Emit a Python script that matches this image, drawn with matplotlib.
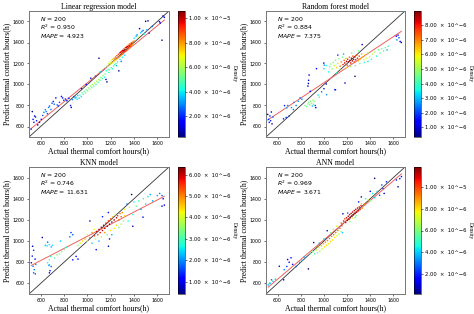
import numpy as np
import matplotlib
matplotlib.use("Agg")
import matplotlib.pyplot as plt
from matplotlib.ticker import FuncFormatter

# ---------------- data ----------------
titles = ["Linear regression model", "Random forest model", "KNN model", "ANN model"]
n_text = ["200", "200", "200", "200"]
r2_text = ["0.950", "0.884", "0.746", "0.969"]
mape_text = ["4.923", "7.375", "11.631", "3.671"]

lr_pts = [
    (518,575),(528,742),(535,668),(542,640),(548,700),(556,690),(565,655),(575,615),(590,640),(605,668),
    (618,705),(628,735),(640,760),(648,742),(658,722),(668,782),(676,795),(688,762),(698,822),(708,838),
    (716,812),(730,872),(742,805),(752,795),(762,830),(778,886),(788,872),(798,850),(812,862),(825,845),
    (842,868),(856,800),(862,782),(872,856),(884,882),(895,870),
    (902,880),(912,860),(918,895),(930,870),(936,900),(948,885),(955,920),
    (966,905),(972,935),(984,920),(990,950),(1002,940),(1008,968),
    (1020,955),(1026,985),(1038,970),(1044,1000),(1056,985),(1062,1015),(1074,1000),
    (1080,1030),(1092,1020),(1098,1048),(1110,1040),(1116,1068),(1128,1055),(1134,1085),
    (1146,1070),(1152,1100),(1160,1048),(1168,1025),(1100,1250),(1155,1160),(1162,1130),(1172,1172),(1178,1145),
    (1185,1115),(1030,1060),(990,1000),(950,960),(1070,1080),(1110,1120),
    (1182,1200),(1188,1180),(1194,1215),(1200,1195),(1206,1230),(1212,1205),(1218,1240),(1224,1215),(1230,1250),(1236,1225),
    (1242,1262),(1248,1238),(1254,1275),(1260,1250),(1266,1288),(1272,1262),(1278,1300),(1284,1275),(1290,1312),(1296,1290),
    (1302,1325),(1308,1300),(1314,1338),(1320,1315),(1326,1350),(1332,1325),(1338,1362),(1344,1340),(1350,1375),(1356,1352),
    (1362,1388),(1370,1365),(1378,1400),(1386,1380),(1394,1412),(1270,1130),(1205,1160),(1225,1175),(1245,1200),(1190,1140),
    (1215,1150),(1260,1215),(1235,1190),(1280,1240),(1300,1260),(1320,1280),(1250,1180),(1290,1220),
    (1285,1305),(1298,1318),(1310,1322),(1322,1332),(1334,1352),(1346,1360),(1358,1370),(1368,1385),(1380,1392),(1392,1402),
    (1305,1292),(1330,1318),(1355,1345),(1375,1372),
    (1402,1442),(1410,1418),(1418,1460),(1426,1472),(1436,1450),(1448,1532),(1458,1492),(1468,1505),(1478,1515),(1488,1482),
    (1500,1602),(1510,1522),(1520,1606),(1530,1490),(1555,1552),(1618,1598),(1640,1422),(1648,1652),(1660,1640),(1625,1585),
]

rf_pts = [
    (515,715),(522,668),(528,640),(534,700),(540,655),(546,738),(552,625),(560,690),
    (651,673),(660,799),(674,686),(680,777),(688,800),(700,700),(720,780),(737,761),(740,830),(760,800),
    (779,840),(794,872),(810,860),
    (838,800),(850,790),(862,815),(870,830),(878,805),(885,840),(892,820),(900,795),(910,812),(918,838),
    (925,800),(930,780),(905,850),(882,935),
    (862,985),(868,1040),(872,1090),(866,1010),
    (936,1151),(999,1204),(1003,1185),(1023,903),(1095,951),(1182,1014),(1268,1078),(960,880),(1100,950),
    (950,900),(980,930),(1000,960),(1020,1005),
    (1050,1170),(1060,1195),(1070,1150),(1080,1210),(1090,1180),(1100,1230),(1110,1160),(1120,1200),(1130,1245),(1140,1175),
    (1150,1215),(1160,1260),(1165,1190),(1175,1230),(1180,1205),(1190,1250),(1195,1220),(1200,1185),(1205,1240),(1212,1215),
    (1220,1260),(1225,1230),(1232,1205),(1238,1250),(1245,1225),(1250,1270),(1256,1240),(1262,1215),(1268,1262),(1275,1235),
    (1282,1280),(1290,1250),(1298,1225),(1305,1270),(1315,1245),(1325,1290),(1335,1260),(1345,1235),(1355,1285),(1365,1250),
    (1380,1300),(1395,1265),(1410,1240),(1000,1150),(1020,1180),(1040,1120),(1120,1280),(1170,1290),(1240,1300),(1300,1320),
    (1110,1110),(1150,1140),(1190,1160),(1230,1170),(1270,1180),(1310,1200),
    (1420,1290),(1440,1310),(1455,1270),(1470,1330),(1485,1300),(1500,1340),(1515,1320),(1530,1350),(1545,1330),(1555,1365),
    (1330,1380),(1350,1210),(1380,1220),
    (1630,1425),(1640,1470),(1648,1445),(1658,1410),(1668,1400),(1625,1460),
]

knn_pts = [
    (520,795),(528,858),(535,762),(540,700),(545,730),(552,830),(558,780),(531,951),(540,913),(554,690),
    (614,1034),(640,960),(655,955),(660,990),(674,967),(690,945),(700,960),(770,1000),
    (660,795),(670,770),(675,700),(684,855),(674,823),(680,720),(674,775),(690,760),
    (720,840),(740,870),(760,880),(780,900),(800,920),(820,940),
    (860,1080),(875,1060),(850,1040),(875,823),(904,855),(920,830),
    (1000,1000),(1020,1030),(1040,980),(1060,1050),(1070,1020),(1080,1090),(1090,1060),(1100,1110),(1110,1080),(1120,1130),
    (1130,1100),(1140,1150),(1150,1120),(1160,1170),(1170,1140),(1180,1190),(1190,1160),(1200,1210),(1210,1180),(1220,1230),
    (1230,1200),(1240,1250),(1250,1220),(1260,1240),(1270,1200),(1280,1260),(1290,1230),(1300,1270),(1310,1190),(1150,1080),
    (1170,1060),(1200,1100),(1230,1120),(1250,1150),(1270,1130),(1290,1160),(1120,1040),(1190,1020),(1210,1060),(1100,1000),
    (1060,1110),(1040,1080),(1000,1060),(980,1020),(960,1000),(940,980),(920,960),
    (1076,919),(1181,951),(1180,1270),(1022,1190),(1130,1230),(1477,1226),
    (1320,1300),(1340,1350),(1360,1320),(1380,1440),(1390,1250),(1400,1370),(1420,1330),(1440,1380),(1460,1300),(1480,1400),
    (1500,1350),(1520,1420),(1540,1440),(1560,1380),(1600,1430),(1620,1450),(1640,1430),(1650,1400),(1660,1340),(1640,1330),
    (1390,1140),(1350,1190),(1320,1240),
]

ann_pts = [
    (519,586),(530,600),(537,602),(548,634),(560,620),(580,640),
    (615,762),(652,634),(658,730),(687,826),(716,842),(700,800),(680,760),(730,780),
    (760,760),(790,800),(810,820),(830,850),(866,737),(880,880),(900,900),(912,986),
    (920,880),(935,915),(945,890),(958,940),(965,905),(978,955),(985,925),(995,975),(1005,945),(1012,990),
    (1022,960),(1030,1005),(1040,975),(1048,1025),(1058,995),(1066,1045),(1075,1010),(1084,1060),(1094,1035),(1102,1080),
    (1112,1050),(1120,1100),(1130,1065),(1138,1120),(1148,1090),(1155,1145),
    (1028,1098),(960,980),(1000,1020),(1060,1080),(1080,1110),(1110,1140),(1150,1170),(1160,1080),
    (1164,1258),(1170,1190),(1180,1210),(1188,1175),(1195,1220),(1202,1195),(1210,1235),(1216,1205),(1222,1250),(1228,1220),
    (1235,1262),(1242,1235),(1248,1275),(1255,1248),(1262,1288),(1268,1260),(1275,1300),(1282,1272),(1290,1312),(1298,1285),
    (1305,1322),(1312,1298),(1320,1335),(1323,1353),(1330,1310),(1205,1265),(1250,1215),(1280,1240),(1225,1185),(1270,1225),
    (1323,1417),(1350,1350),(1380,1390),(1400,1380),(1420,1450),(1438,1593),(1460,1470),(1481,1433),(1500,1530),(1510,1497),
    (1520,1450),(1540,1560),(1626,1577),(1640,1513),(1669,1609),(1655,1590),(1360,1400),(1440,1410),(1400,1470),(1300,1370),
]

panels_pts = [lr_pts, rf_pts, knn_pts, ann_pts]
cbar_ranges = [(0.28e-6, 1.06e-5), (0.34e-6, 8.96e-6), (0.42e-6, 6.36e-6), (0.1e-6, 1.19e-5)]
cbar_ticks = [
    [2e-6, 4e-6, 6e-6, 8e-6, 1e-5],
    [1e-6, 2e-6, 3e-6, 4e-6, 5e-6, 6e-6, 7e-6, 8e-6],
    [1e-6, 2e-6, 3e-6, 4e-6, 5e-6, 6e-6],
    [2e-6, 4e-6, 6e-6, 8e-6, 1e-5],
]
axis_ticks = [600, 800, 1000, 1200, 1400, 1600]
axis_lim = (500, 1700)

# ---------------- helpers ----------------
def kde2d(x, y, bw_scale=0.75):
    pts = np.vstack([x, y])
    n = pts.shape[1]
    cov = np.cov(pts) * (bw_scale * n ** (-1.0 / 6.0)) ** 2
    inv = np.linalg.inv(cov)
    norm = 1.0 / (2 * np.pi * np.sqrt(np.linalg.det(cov)) * n)
    d = pts[:, :, None] - pts[:, None, :]
    q = inv[0, 0] * d[0] ** 2 + 2 * inv[0, 1] * d[0] * d[1] + inv[1, 1] * d[1] ** 2
    return norm * np.exp(-0.5 * q).sum(axis=1)

def fmt(v, pos):
    if v <= 0:
        return ""
    e = int(np.floor(np.log10(v) + 1e-9))
    m = v / 10 ** e
    return f"{m:.2f}  \u00d7  10^\u2212{-e}"

serif = "Liberation Serif"

fig = plt.figure(figsize=(4.74, 3.14), dpi=100)
W, H = 474.0, 314.0
ax_boxes = [(29, 11, 169, 137), (266, 11, 405, 137), (29, 167, 169, 294), (266, 167, 405, 294)]
cb_boxes = [(178, 11, 185, 137), (414, 11, 421, 137), (178, 167, 185, 294), (414, 167, 421, 294)]

def rect(b):
    l, t, r, bt = b
    return [l / W, 1 - bt / H, (r - l) / W, (bt - t) / H]

for i in range(4):
    pts = np.array(panels_pts[i], dtype=float)
    x, y = pts[:, 0], pts[:, 1]
    z = kde2d(x, y)
    lo, hi = cbar_ranges[i]
    zc = lo + (z - z.min()) / (z.max() - z.min()) * (hi - lo)
    order = np.argsort(zc)
    x, y, zc = x[order], y[order], zc[order]

    ax = fig.add_axes(rect(ax_boxes[i]))
    ax.plot(axis_lim, axis_lim, color="#333333", lw=0.6, zorder=1)
    k, b = np.polyfit(x, y, 1)
    xx = np.array([x.min(), x.max()])
    ax.plot(xx, k * xx + b, color="#f06060", lw=0.7, zorder=2)
    sc = ax.scatter(x, y, c=zc, cmap="jet", s=1.3, lw=0, vmin=lo, vmax=hi, zorder=3)
    ax.set_xlim(axis_lim)
    ax.set_ylim(axis_lim)
    ax.set_xticks(axis_ticks)
    ax.set_yticks(axis_ticks)
    ax.tick_params(labelsize=3.4, length=1.5, width=0.4, pad=1.5)
    for s in ax.spines.values():
        s.set_linewidth(0.7)
        s.set_color("#777777")
    ax.set_title(titles[i], fontfamily=serif, fontsize=5.6, pad=1.5)
    ax.set_xlabel("Actual thermal comfort hours(h)", fontfamily=serif, fontsize=5.6, labelpad=0.5)
    ax.set_ylabel("Predict thermal comfort hours(h)", fontfamily=serif, fontsize=5.6, labelpad=1)
    ax.text(0.08, 0.965,
            f"$N$ = {n_text[i]}\n$R^2$ = {r2_text[i]}\n$MAPE$ = {mape_text[i]}",
            transform=ax.transAxes, fontsize=4.4, va="top", ha="left", linespacing=0.95)

    cax = fig.add_axes(rect(cb_boxes[i]))
    cb = fig.colorbar(sc, cax=cax)
    cb.set_ticks(cbar_ticks[i])
    cb.ax.yaxis.set_major_formatter(FuncFormatter(fmt))
    cb.ax.tick_params(labelsize=3.8, length=1.2, width=0.4, pad=1.5)
    cb.outline.set_linewidth(0.4)
    cb.set_label("Density", fontfamily=serif, fontsize=4, rotation=270, labelpad=5)

fig.savefig("out.png", dpi=100)
